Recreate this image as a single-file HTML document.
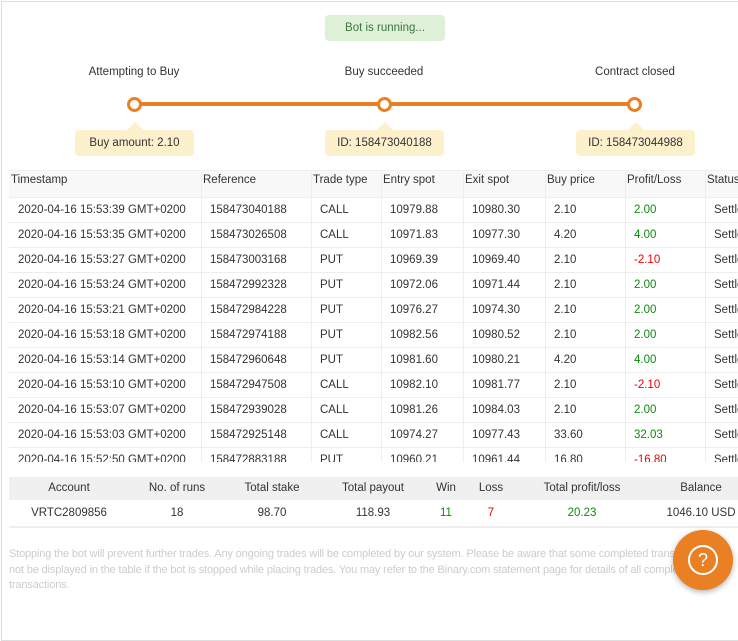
<!DOCTYPE html>
<html><head><meta charset="utf-8"><style>
*{box-sizing:border-box;margin:0;padding:0}
body{width:738px;height:608px;overflow:hidden;background:#fff;font-family:"Liberation Sans",sans-serif;font-size:11.5px;color:#333;position:relative}
.abs{position:absolute}
.frame{left:1px;top:1px;width:760px;height:640px;border:1px solid #ddd}
.status{left:325px;top:15px;width:120px;height:26px;background:#dff0d8;color:#3c763d;border-radius:4px;text-align:center;line-height:26px}
.step{width:200px;text-align:center;top:66px}
.tip{top:130px;height:26px;width:119px;background:#fdf0cc;border-radius:4px;text-align:center;line-height:26px}
.tip:before{content:"";position:absolute;left:52px;top:-8px;border:8px solid transparent;border-top:0;border-bottom-color:#fdf0cc}
.dot{width:15px;height:15px;border:3px solid #e98024;border-radius:50%;background:#fff;top:97px}
.tbl{left:9px;top:170px;width:740px;height:292px;overflow:hidden;border-top:1px solid #eee}
.hdr{left:0;top:0;height:27px;width:740px;background:#f8f8f8;border-bottom:1px solid #eee}
.cell{position:absolute;white-space:nowrap}
.row{position:absolute;left:0;width:740px;height:25px;border-bottom:1px solid #eee}
.g{color:#0c8a0c}.r{color:#e00}
.sum{left:9px;top:477px;width:740px;height:51px;border-bottom:2px solid #eee}
.sum .h{position:absolute;top:0;height:23px;width:740px;background:#f0f0f0}
.sum span{position:absolute;text-align:center;width:120px;margin-left:-60px}
.note{left:9px;top:547px;width:750px;color:#ccc;font-size:11px;letter-spacing:-0.15px;line-height:15.5px}
.help{left:673px;top:530px;width:60px;height:60px;border-radius:50%;background:#e98024;box-shadow:0 2px 6px rgba(0,0,0,.3)}
.help div{position:absolute;left:15px;top:15px;width:30px;height:30px;border:2px solid #fff;border-radius:50%;color:#fff;text-align:center;line-height:26px;font-size:18px}
</style></head><body>
<div class="abs frame"></div>
<div class="abs status">Bot is running...</div>
<div class="abs step" style="left:34px">Attempting to Buy</div>
<div class="abs step" style="left:284px">Buy succeeded</div>
<div class="abs step" style="left:535px">Contract closed</div>
<div class="abs" style="left:134px;top:102px;width:500px;height:4px;background:#e98024"></div>
<div class="abs dot" style="left:127px"></div>
<div class="abs dot" style="left:377px"></div>
<div class="abs dot" style="left:627px"></div>
<div class="abs tip" style="left:75px">Buy amount: 2.10</div>
<div class="abs tip" style="left:325px">ID: 158473040188</div>
<div class="abs tip" style="left:576px">ID: 158473044988</div>

<div class="abs tbl" id="tbl">
<div class="abs hdr" id="hdr"></div>
</div>

<div class="abs sum">
<div class="h"></div>
<span style="left:60px;top:5px">Account</span>
<span style="left:168px;top:5px">No. of runs</span>
<span style="left:263px;top:5px">Total stake</span>
<span style="left:364px;top:5px">Total payout</span>
<span style="left:437px;top:5px">Win</span>
<span style="left:482px;top:5px">Loss</span>
<span style="left:573px;top:5px">Total profit/loss</span>
<span style="left:692px;top:5px">Balance</span>
<span style="left:60px;top:30px">VRTC2809856</span>
<span style="left:168px;top:30px">18</span>
<span style="left:263px;top:30px">98.70</span>
<span style="left:364px;top:30px">118.93</span>
<span style="left:437px;top:30px" class="g">11</span>
<span style="left:482px;top:30px" class="r">7</span>
<span style="left:573px;top:30px" class="g">20.23</span>
<span style="left:692px;top:30px">1046.10 USD</span>
</div>
<div class="abs note">Stopping the bot will prevent further trades. Any ongoing trades will be completed by our system. Please be aware that some completed transactions may<br>not be displayed in the table if the bot is stopped while placing trades. You may refer to the Binary.com statement page for details of all completed<br>transactions.</div>
<div class="abs help"><div>?</div></div>

<script>
const colX=[0,192,302,372,454,536,616,696];
const headers=["Timestamp","Reference","Trade type","Entry spot","Exit spot","Buy price","Profit/Loss","Status"];
const rows=[
["2020-04-16 15:53:39 GMT+0200","158473040188","CALL","10979.88","10980.30","2.10","2.00"],
["2020-04-16 15:53:35 GMT+0200","158473026508","CALL","10971.83","10977.30","4.20","4.00"],
["2020-04-16 15:53:27 GMT+0200","158473003168","PUT","10969.39","10969.40","2.10","-2.10"],
["2020-04-16 15:53:24 GMT+0200","158472992328","PUT","10972.06","10971.44","2.10","2.00"],
["2020-04-16 15:53:21 GMT+0200","158472984228","PUT","10976.27","10974.30","2.10","2.00"],
["2020-04-16 15:53:18 GMT+0200","158472974188","PUT","10982.56","10980.52","2.10","2.00"],
["2020-04-16 15:53:14 GMT+0200","158472960648","PUT","10981.60","10980.21","4.20","4.00"],
["2020-04-16 15:53:10 GMT+0200","158472947508","CALL","10982.10","10981.77","2.10","-2.10"],
["2020-04-16 15:53:07 GMT+0200","158472939028","CALL","10981.26","10984.03","2.10","2.00"],
["2020-04-16 15:53:03 GMT+0200","158472925148","CALL","10974.27","10977.43","33.60","32.03"],
["2020-04-16 15:52:50 GMT+0200","158472883188","PUT","10960.21","10961.44","16.80","-16.80"]];
const tbl=document.getElementById('tbl'),hdr=document.getElementById('hdr');
headers.forEach((h,i)=>{const c=document.createElement('div');c.className='cell';c.style.left=(colX[i]+2)+'px';c.style.top='3px';c.textContent=h;


hdr.appendChild(c);
if(i>0){const l=document.createElement('div');l.className='cell';l.style.cssText='left:'+colX[i]+'px;top:0;width:1px;height:300px;background:#eee';


tbl.appendChild(l);}});
rows.forEach((r,ri)=>{const row=document.createElement('div');row.className='row';row.style.top=(27+ri*25)+'px';


r.concat(["Settled"]).forEach((v,i)=>{const c=document.createElement('div');c.className='cell';c.style.left=(colX[i]+9)+'px';c.style.top='6px';c.textContent=v;
if(i==6)c.className+=v[0]=='-'?' r':' g';


row.appendChild(c);});
tbl.appendChild(row);});
</script>
</body></html>
